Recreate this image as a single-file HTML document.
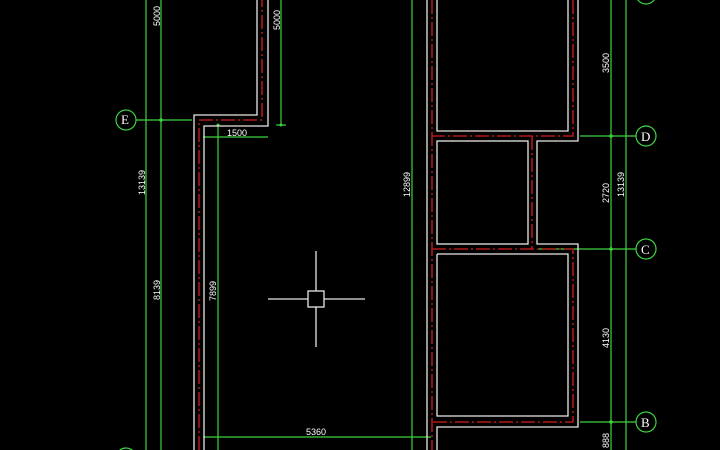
<!DOCTYPE html>
<html><head><meta charset="utf-8"><style>
html,body{margin:0;padding:0;background:#000;width:720px;height:450px;overflow:hidden}
text{font-family:"Liberation Sans",sans-serif;font-size:9px;fill:#fff}
</style></head><body>
<svg width="720" height="450" viewBox="0 0 720 450" xmlns="http://www.w3.org/2000/svg">
<g stroke="#3ed43e" stroke-width="1.2" fill="none">
<line x1="146" y1="0" x2="146" y2="450"/>
<line x1="161" y1="0" x2="161" y2="450"/>
<line x1="218" y1="124" x2="218" y2="450"/>
<line x1="281" y1="0" x2="281" y2="125"/>
<line x1="412" y1="0" x2="412" y2="450"/>
<line x1="611" y1="0" x2="611" y2="450"/>
<line x1="626" y1="0" x2="626" y2="450"/>
<line x1="136" y1="120" x2="192" y2="120"/>
<line x1="276" y1="125" x2="286" y2="125"/>
<line x1="203" y1="137" x2="268" y2="137"/>
<line x1="203" y1="437" x2="431" y2="437"/>
<line x1="580" y1="136" x2="636" y2="136"/>
<line x1="538" y1="249" x2="636" y2="249"/>
<line x1="580" y1="422" x2="636" y2="422"/>
<circle cx="126" cy="120" r="10"/>
<circle cx="646" cy="136" r="10"/>
<circle cx="646" cy="249" r="10"/>
<circle cx="646" cy="422" r="10"/>
<circle cx="646" cy="-6" r="10"/>
<circle cx="126" cy="458" r="10"/>
</g>
<g fill="#3ed43e"><circle cx="161" cy="120" r="1.8"/><circle cx="611" cy="136" r="1.8"/><circle cx="611" cy="249" r="1.8"/><circle cx="611" cy="422" r="1.8"/><circle cx="218" cy="125" r="1.5"/><circle cx="281" cy="125" r="1.5"/></g>
<g stroke="#b01818" stroke-width="1.6" fill="none" stroke-dasharray="14,3,2,3">
<polyline points="199,450 199,120 262,120 262,0"/>
<line x1="432" y1="0" x2="432" y2="450"/>
<polyline points="573,0 573,136 432,136"/>
<polyline points="532,136 532,249"/>
<polyline points="432,249 573,249 573,422 432,422"/>
</g>
<g stroke="#e8e8e8" stroke-width="1.3" fill="none">
<polyline points="194,450 194,115 257,115 257,0"/>
<polyline points="204,450 204,126 268,126 268,0"/>
<line x1="427" y1="0" x2="427" y2="450"/>
<polyline points="437,0 437,131 568,131 568,0"/>
<polyline points="578,0 578,141 537,141 537,244 578,244 578,427 437,427 437,450"/>
<rect x="437" y="141" width="91" height="103"/>
<polyline points="437,254 568,254 568,416 437,416 437,254"/>
<rect x="308" y="291" width="16" height="16"/>
<line x1="268" y1="299" x2="308" y2="299"/><line x1="324" y1="299" x2="365" y2="299"/>
<line x1="316" y1="251" x2="316" y2="291"/><line x1="316" y1="307" x2="316" y2="347"/>
</g>
<g>
<text x="121" y="124" style="font-size:13px;font-family:'Liberation Serif',serif">E</text>
<text x="641" y="141" style="font-size:13px;font-family:'Liberation Serif',serif">D</text>
<text x="641" y="254" style="font-size:13px;font-family:'Liberation Serif',serif">C</text>
<text x="641" y="427" style="font-size:13px;font-family:'Liberation Serif',serif">B</text>
<text x="227" y="136">1500</text>
<text x="306" y="435">5360</text>
<text transform="translate(160,26) rotate(-90)">5000</text>
<text transform="translate(280,30) rotate(-90)">5000</text>
<text transform="translate(145,195) rotate(-90)">13139</text>
<text transform="translate(160,300) rotate(-90)">8139</text>
<text transform="translate(216,301) rotate(-90)">7899</text>
<text transform="translate(410,197) rotate(-90)">12899</text>
<text transform="translate(609,73) rotate(-90)">3500</text>
<text transform="translate(609,203) rotate(-90)">2720</text>
<text transform="translate(624,197) rotate(-90)">13139</text>
<text transform="translate(609,348) rotate(-90)">4130</text>
<text transform="translate(609,448) rotate(-90)">888</text>
</g>
</svg>
</body></html>
